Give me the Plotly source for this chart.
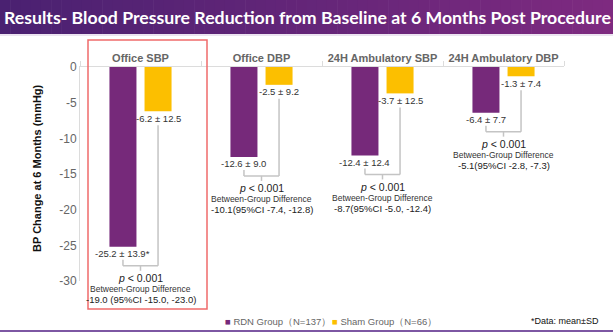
import plotly.graph_objects as go

# ---- data -------------------------------------------------------------
categories = ["Office SBP", "Office DBP", "24H Ambulatory SBP", "24H Ambulatory DBP"]
rdn_mean = [-25.2, -12.6, -12.4, -6.4]
rdn_sd = [13.9, 9.0, 12.4, 7.7]
rdn_flag = ["*", "", "", ""]
sham_mean = [-6.2, -2.5, -3.7, -1.3]
sham_sd = [12.5, 9.2, 12.5, 7.4]
diff_mean = [-19.0, -10.1, -8.7, -5.1]
ci_low = [-15.0, -7.4, -5.0, -2.8]
ci_high = [-23.0, -12.8, -12.4, -7.3]
ci_sep = [" ", "", "", ""]
p_values = ["< 0.001", "< 0.001", "< 0.001", "< 0.001"]
y_ticks = [0, -5, -10, -15, -20, -25, -30]
n_rdn, n_sham = 137, 66

# ---- layout constants ---------------------------------------------------
W, H = 613, 332
ML, MR, MT, MB = 80, 49, 67, 51
PW, PH = W - ML - MR, H - MT - MB
Y_MIN, Y_MAX = -30, 0
PPU = PH / (Y_MAX - Y_MIN)          # pixels per mmHg
BARGAP, GROUPGAP = 0.42, 0.23
DX = (1 - BARGAP) / 4               # offset of each bar centre from category centre

PURPLE = "#76297a"
YELLOW = "#fcbf00"
FONT = "Liberation Sans, Arial, sans-serif"
LINE = "#c4c4c4"


def px(v):
    """pixel distance -> data units on the y axis"""
    return v / PPU


def paper_x(p):
    return (p - ML) / PW


def paper_y(p):
    return (H - MB - p) / PH


fig = go.Figure()
fig.add_trace(go.Bar(x=categories, y=rdn_mean, name=f"RDN Group (N={n_rdn})",
                     marker=dict(color=PURPLE, line=dict(width=0))))
fig.add_trace(go.Bar(x=categories, y=sham_mean, name=f"Sham Group (N={n_sham})",
                     marker=dict(color=YELLOW, line=dict(width=0))))

shapes = []
annotations = []

# header band with a horizontal purple gradient
c0, c1 = (74, 33, 113), (126, 42, 128)
n_strips = 60
for k in range(n_strips):
    t = k / (n_strips - 1)
    col = tuple(round(a + (b - a) * t) for a, b in zip(c0, c1))
    x0 = k * W / n_strips
    x1 = (k + 1) * W / n_strips + 0.6
    shapes.append(dict(type="rect", xref="paper", yref="paper", layer="below",
                       x0=paper_x(x0), x1=paper_x(x1), y0=paper_y(34), y1=paper_y(0),
                       fillcolor=f"rgb{col}", line=dict(width=0)))
shapes.append(dict(type="line", xref="paper", yref="paper",
                   x0=paper_x(0), x1=paper_x(W), y0=paper_y(35), y1=paper_y(35),
                   line=dict(color="#d8c8e2", width=1)))
annotations.append(dict(xref="paper", yref="paper", x=paper_x(W / 2 + 0.5), y=paper_y(17),
                        xanchor="center", yanchor="middle", showarrow=False,
                        text="Results- Blood Pressure Reduction from Baseline at 6 Months Post Procedure",
                        font=dict(family="Lato, Open Sans, sans-serif", size=17.7,
                                  color="white", weight="bold")))

# footer rule
shapes.append(dict(type="line", xref="paper", yref="paper",
                   x0=paper_x(0), x1=paper_x(W), y0=paper_y(331), y1=paper_y(331),
                   line=dict(color="#7d57a3", width=2)))

# highlight box round the first panel
shapes.append(dict(type="rect", xref="paper", yref="paper",
                   x0=paper_x(88), x1=paper_x(207), y0=paper_y(309), y1=paper_y(40),
                   line=dict(color="#ef6b6b", width=1.5), fillcolor="rgba(0,0,0,0)"))

# value labels, comparison brackets and between-group statistics
for i in range(len(categories)):
    xr, xs = i - DX, i + DX
    annotations.append(dict(x=xr, y=rdn_mean[i], yshift=-7, yanchor="middle",
                            showarrow=False,
                            text=f"{rdn_mean[i]:.1f} ± {rdn_sd[i]:.1f}{rdn_flag[i]}",
                            font=dict(family=FONT, size=9.5, color="#333")))
    annotations.append(dict(x=xs, y=sham_mean[i], yshift=-7, yanchor="middle",
                            showarrow=False,
                            text=f"{sham_mean[i]:.1f} ± {sham_sd[i]:.1f}",
                            font=dict(family=FONT, size=9.5, color="#333")))

    yb = min(rdn_mean[i], sham_mean[i]) - px(19)
    shapes += [
        dict(type="line", x0=xr, x1=xr, y0=rdn_mean[i] - px(13), y1=yb,
             line=dict(color=LINE, width=1.5)),
        dict(type="line", x0=xs, x1=xs, y0=sham_mean[i] - px(14), y1=yb,
             line=dict(color=LINE, width=1.5)),
        dict(type="line", x0=xr, x1=xs, y0=yb, y1=yb,
             line=dict(color=LINE, width=1.5)),
        dict(type="line", x0=i, x1=i, y0=yb, y1=yb - px(5),
             line=dict(color=LINE, width=1.5)),
    ]
    annotations.append(dict(x=i, y=yb, yshift=-12.5, yanchor="middle", showarrow=False,
                            text=f"<i>p</i> {p_values[i]}",
                            font=dict(family=FONT, size=10.5, color="#222")))
    annotations.append(dict(x=i, y=yb, yshift=-23.5, yanchor="middle", showarrow=False,
                            text="Between-Group Difference",
                            font=dict(family=FONT, size=8.5, color="#333")))
    annotations.append(dict(x=i, y=yb, yshift=-34, yanchor="middle", showarrow=False,
                            text=f"{diff_mean[i]:.1f}{ci_sep[i]}(95%CI {ci_low[i]:.1f}, {ci_high[i]:.1f})",
                            font=dict(family=FONT, size=9.5, color="#222")))

# y axis title
annotations.append(dict(xref="paper", yref="paper", x=paper_x(37), y=paper_y(168),
                        textangle=-90, showarrow=False, xanchor="center", yanchor="middle",
                        text="BP Change at 6 Months (mmHg)",
                        font=dict(family=FONT, size=11, color="#111", weight="bold")))

# group key and footnote
annotations.append(dict(xref="paper", yref="paper", x=paper_x(223), y=paper_y(321),
                        xanchor="left", yanchor="middle", showarrow=False,
                        text=f'<span style="color:{PURPLE}">■</span> RDN Group（N={n_rdn}）',
                        font=dict(family=FONT, size=9.5, color="#666")))
annotations.append(dict(xref="paper", yref="paper", x=paper_x(330), y=paper_y(321),
                        xanchor="left", yanchor="middle", showarrow=False,
                        text=f'<span style="color:{YELLOW}">■</span> Sham Group（N={n_sham}）',
                        font=dict(family=FONT, size=9.5, color="#666")))
annotations.append(dict(xref="paper", yref="paper", x=paper_x(601), y=paper_y(321),
                        xanchor="right", yanchor="middle", showarrow=False,
                        text="*Data: mean±SD",
                        font=dict(family=FONT, size=9, color="#111")))

fig.update_layout(
    width=W, height=H,
    margin=dict(l=ML, r=MR, t=MT, b=MB, pad=0),
    paper_bgcolor="white", plot_bgcolor="white",
    barmode="group", bargap=BARGAP, bargroupgap=GROUPGAP,
    showlegend=False,
    shapes=shapes, annotations=annotations,
    xaxis=dict(type="category", side="top", showline=True, linecolor="#dcdcdc",
               linewidth=1, ticks="outside", tickson="boundaries", ticklen=5,
               tickcolor="#dcdcdc", showgrid=False, zeroline=False,
               range=[-0.5, len(categories) - 0.5],
               tickfont=dict(family=FONT, size=11, color="#666", weight="bold")),
    yaxis=dict(range=[Y_MIN, Y_MAX], tickvals=y_ticks, ticktext=[str(v) for v in y_ticks],
               showline=True, linecolor="#dcdcdc", linewidth=1, ticks="",
               showgrid=False, zeroline=False,
               tickfont=dict(family=FONT, size=12, color="#666")),
)

fig.write_html("out.html")
